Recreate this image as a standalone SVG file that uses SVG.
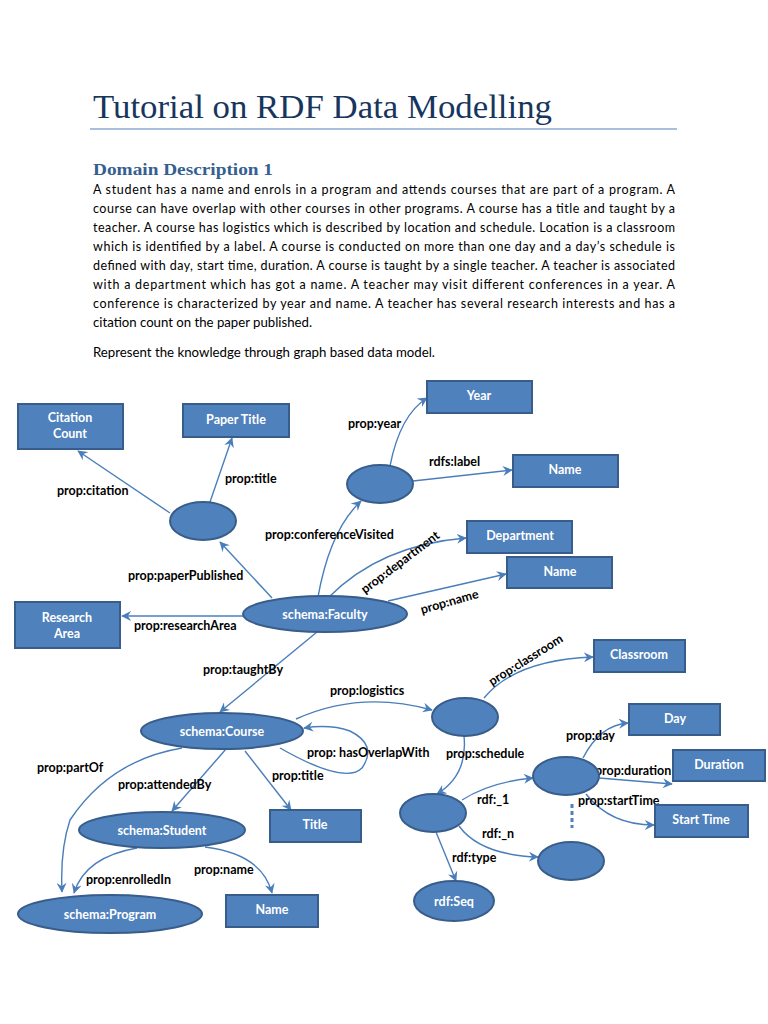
<svg xmlns="http://www.w3.org/2000/svg" width="768" height="1024" viewBox="0 0 768 1024">
<defs>
<marker id="ah" viewBox="0 0 12 12" refX="11" refY="6" markerWidth="10" markerHeight="10" markerUnits="userSpaceOnUse" orient="auto">
<path d="M0,0 L12,6 L0,12 L4,6 Z" fill="#4a7ebb"/>
</marker>
<style>
.bg{fill:#ffffff}
.title{font-family:"Liberation Serif",serif;font-size:33px;fill:#17365d}
.h1{font-family:"Liberation Serif",serif;font-size:17px;font-weight:bold;fill:#365f91}
.body{font-family:Lato,"Liberation Sans",sans-serif;font-size:12.5px;fill:#000}
.n rect,.n ellipse{fill:#4f81bd;stroke:#385d8a;stroke-width:2}
.n text{font-family:Lato,"Liberation Sans",sans-serif;font-size:12.5px;font-weight:bold;fill:#fff;text-anchor:middle}
.e path{fill:none;stroke:#4a7ebb;stroke-width:1.4;marker-end:url(#ah)}
.lb{font-family:Lato,"Liberation Sans",sans-serif;font-size:12.5px;font-weight:bold;fill:#000}
</style>
</defs>
<rect class="bg" width="768" height="1024"/>

<text class="title" x="93" y="118" textLength="459" lengthAdjust="spacingAndGlyphs">Tutorial on RDF Data Modelling</text>
<line x1="90" y1="129" x2="677" y2="129" stroke="#4f81bd" stroke-width="1"/>
<text class="h1" x="93" y="175" textLength="180" lengthAdjust="spacingAndGlyphs">Domain Description 1</text>

<g class="body">
<text x="93" y="194" textLength="582" lengthAdjust="spacing">A student has a name and enrols in a program and attends courses that are part of a program. A</text>
<text x="93" y="213" textLength="582" lengthAdjust="spacing">course can have overlap with other courses in other programs. A course has a title and taught by a</text>
<text x="93" y="232" textLength="582" lengthAdjust="spacing">teacher. A course has logistics which is described by location and schedule. Location is a classroom</text>
<text x="93" y="251" textLength="582" lengthAdjust="spacing">which is identified by a label. A course is conducted on more than one day and a day’s schedule is</text>
<text x="93" y="270" textLength="582" lengthAdjust="spacing">defined with day, start time, duration. A course is taught by a single teacher. A teacher is associated</text>
<text x="93" y="289" textLength="582" lengthAdjust="spacing">with a department which has got a name. A teacher may visit different conferences in a year. A</text>
<text x="93" y="308" textLength="582" lengthAdjust="spacing">conference is characterized by year and name. A teacher has several research interests and has a</text>
<text x="93" y="327" textLength="219" lengthAdjust="spacingAndGlyphs">citation count on the paper published.</text>
<text x="93" y="357" textLength="342" lengthAdjust="spacingAndGlyphs">Represent the knowledge through graph based data model.</text>
</g>

<g id="edges" class="e">
<path d="M170,513 L78,451"/>
<path d="M210,502 L232,438"/>
<path d="M272,598 L220,542"/>
<path d="M243,616 L122,616"/>
<path d="M318,597 Q330,530 361,501"/>
<path d="M390,466 Q400,415 427,398"/>
<path d="M413,481 L512,470"/>
<path d="M328,598 Q380,545 466,538"/>
<path d="M388,601 L506,574"/>
<path d="M317,632 L220,712"/>
<path d="M296,719 Q360,690 432,710"/>
<path d="M280,748 Q345,785 362,768 Q378,745 350,731 Q330,724 304,728"/>
<path d="M226,749 L172,811"/>
<path d="M245,751 L291,810"/>
<path d="M182,748 Q110,760 70,820 Q60,850 62,892"/>
<path d="M137,848 Q85,857 74,893"/>
<path d="M205,847 Q262,854 272,893"/>
<path d="M484,698 Q515,660 593,657"/>
<path d="M464,736 Q468,775 437,794"/>
<path d="M462,800 Q490,782 533,778"/>
<path d="M459,826 Q480,855 538,857"/>
<path d="M436,832 L456,881"/>
<path d="M583,758 Q600,725 628,723"/>
<path d="M599,778 L672,784"/>
<path d="M586,794 Q610,825 654,825"/>
<line x1="572" y1="804" x2="572" y2="828" stroke="#4f81bd" stroke-width="3" stroke-dasharray="4,3"/>
</g>

<g id="labels">
<text class="lb" x="57" y="495">prop:citation</text>
<text class="lb" x="225" y="483">prop:title</text>
<text class="lb" x="128" y="580">prop:paperPublished</text>
<text class="lb" x="134" y="630">prop:researchArea</text>
<text class="lb" x="265" y="539">prop:conferenceVisited</text>
<text class="lb" x="348" y="428">prop:year</text>
<text class="lb" x="429" y="466">rdfs:label</text>
<text class="lb" transform="translate(365,594) rotate(-37)">prop:department</text>
<text class="lb" transform="translate(422,614) rotate(-16)">prop:name</text>
<text class="lb" x="203" y="674">prop:taughtBy</text>
<text class="lb" x="330" y="695">prop:logistics</text>
<text class="lb" x="307" y="757">prop: hasOverlapWith</text>
<text class="lb" x="118" y="789">prop:attendedBy</text>
<text class="lb" x="272" y="780">prop:title</text>
<text class="lb" x="37" y="772">prop:partOf</text>
<text class="lb" x="86" y="884">prop:enrolledIn</text>
<text class="lb" x="194" y="874">prop:name</text>
<text class="lb" transform="translate(492,686) rotate(-32)">prop:classroom</text>
<text class="lb" x="446" y="758">prop:schedule</text>
<text class="lb" x="477" y="804">rdf:_1</text>
<text class="lb" x="482" y="838">rdf:_n</text>
<text class="lb" x="452" y="862">rdf:type</text>
<text class="lb" x="566" y="740">prop:day</text>
<text class="lb" x="595" y="775">prop:duration</text>
<text class="lb" x="578" y="805">prop:startTime</text>
</g>

<g id="citationCount" class="n"><rect x="18" y="404" width="105" height="45"/><text x="70" y="422">Citation</text><text x="70" y="438">Count</text></g>
<g id="paperTitle" class="n"><rect x="183" y="404" width="106" height="33"/><text x="236" y="424">Paper Title</text></g>
<g id="year" class="n"><rect x="427" y="381" width="105" height="32"/><text x="479" y="400">Year</text></g>
<g id="confName" class="n"><rect x="513" y="455" width="105" height="32"/><text x="565" y="474">Name</text></g>
<g id="department" class="n"><rect x="467" y="521" width="105" height="32"/><text x="520" y="540">Department</text></g>
<g id="deptName" class="n"><rect x="507" y="557" width="105" height="31"/><text x="560" y="576">Name</text></g>
<g id="researchArea" class="n"><rect x="15" y="602" width="105" height="46"/><text x="67" y="622">Research</text><text x="67" y="638">Area</text></g>
<g id="classroom" class="n"><rect x="594" y="640" width="91" height="32"/><text x="639" y="659">Classroom</text></g>
<g id="day" class="n"><rect x="629" y="704" width="91" height="31"/><text x="675" y="723">Day</text></g>
<g id="duration" class="n"><rect x="673" y="750" width="92" height="31"/><text x="719" y="769">Duration</text></g>
<g id="startTime" class="n"><rect x="655" y="805" width="93" height="32"/><text x="701" y="824">Start Time</text></g>
<g id="title" class="n"><rect x="270" y="810" width="91" height="32"/><text x="315" y="829">Title</text></g>
<g id="studentName" class="n"><rect x="226" y="895" width="92" height="32"/><text x="272" y="914">Name</text></g>

<g id="paper" class="n"><ellipse cx="203" cy="521" rx="33" ry="19"/></g>
<g id="conference" class="n"><ellipse cx="380" cy="484" rx="33" ry="19"/></g>
<g id="faculty" class="n"><ellipse cx="325" cy="614" rx="82" ry="18"/><text x="325" y="619">schema:Faculty</text></g>
<g id="course" class="n"><ellipse cx="222" cy="731" rx="81" ry="18"/><text x="222" y="736">schema:Course</text></g>
<g id="logistics" class="n"><ellipse cx="465" cy="717" rx="33" ry="19"/></g>
<g id="schedule" class="n"><ellipse cx="433" cy="813" rx="33" ry="19"/></g>
<g id="dayItem" class="n"><ellipse cx="566" cy="776" rx="33" ry="19"/></g>
<g id="nthItem" class="n"><ellipse cx="571" cy="861" rx="33" ry="19"/></g>
<g id="student" class="n"><ellipse cx="162" cy="830" rx="83" ry="18"/><text x="162" y="835">schema:Student</text></g>
<g id="program" class="n"><ellipse cx="110" cy="914" rx="92" ry="19"/><text x="110" y="919">schema:Program</text></g>
<g id="rdfSeq" class="n"><ellipse cx="454" cy="901" rx="40" ry="20"/><text x="454" y="906">rdf:Seq</text></g>
</svg>
